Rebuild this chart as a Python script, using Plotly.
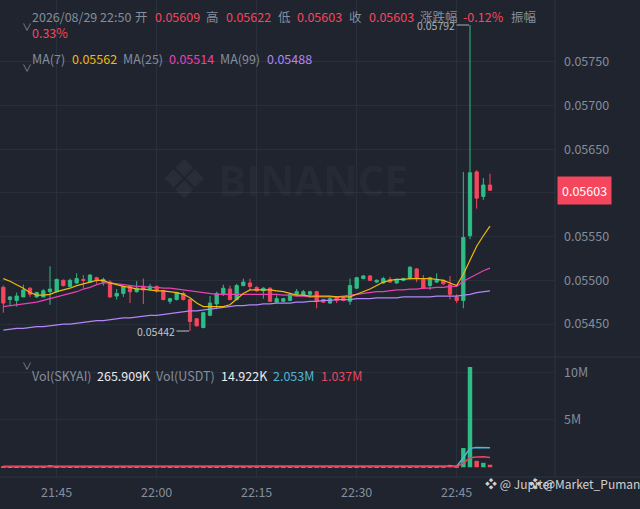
import pandas as pd
import plotly.graph_objects as go

# 1-minute candles, 21:37 -> 22:50
times = pd.date_range("2026-08-29 21:37", periods=74, freq="min")

opens = [0.05492, 0.05478, 0.05477, 0.05481, 0.05491, 0.05481, 0.05481, 0.05487, 0.05487, 0.05500,
         0.05493, 0.05497, 0.05501, 0.05498, 0.05503, 0.05498, 0.05498, 0.05482, 0.05485, 0.05493,
         0.05487, 0.05493, 0.05490, 0.05493, 0.05488, 0.05476, 0.05478, 0.05485, 0.05478, 0.05456,
         0.05446, 0.05460, 0.05473, 0.05484, 0.05490, 0.05478, 0.05494, 0.05497, 0.05492, 0.05488,
         0.05491, 0.05475, 0.05476, 0.05477, 0.05484, 0.05483, 0.05484, 0.05487, 0.05478, 0.05474,
         0.05481, 0.05480, 0.05476, 0.05491, 0.05502, 0.05505, 0.05498, 0.05497, 0.05501, 0.05497,
         0.05500, 0.05502, 0.05513, 0.05501, 0.05494, 0.05498, 0.05500, 0.05495, 0.05481, 0.05477,
         0.05551, 0.05624, 0.05596, 0.05609]
highs = [0.05494, 0.05482, 0.05486, 0.05495, 0.05492, 0.05487, 0.05490, 0.05516, 0.05502, 0.05501,
         0.05502, 0.05508, 0.05506, 0.05507, 0.05504, 0.05503, 0.05500, 0.05490, 0.05494, 0.05494,
         0.05499, 0.05502, 0.05496, 0.05494, 0.05489, 0.05480, 0.05487, 0.05487, 0.05479, 0.05457,
         0.05464, 0.05482, 0.05487, 0.05495, 0.05494, 0.05496, 0.05502, 0.05502, 0.05493, 0.05492,
         0.05492, 0.05483, 0.05480, 0.05485, 0.05490, 0.05489, 0.05488, 0.05488, 0.05479, 0.05481,
         0.05482, 0.05481, 0.05502, 0.05504, 0.05506, 0.05506, 0.05501, 0.05504, 0.05504, 0.05502,
         0.05503, 0.05516, 0.05514, 0.05506, 0.05504, 0.05508, 0.05501, 0.05505, 0.05484, 0.05624,
         0.05792, 0.05626, 0.05617, 0.05622]
lows = [0.05463, 0.05471, 0.05470, 0.05481, 0.05481, 0.05480, 0.05481, 0.05472, 0.05486, 0.05493,
        0.05492, 0.05496, 0.05491, 0.05497, 0.05496, 0.05494, 0.05480, 0.05478, 0.05481, 0.05474,
        0.05486, 0.05473, 0.05488, 0.05486, 0.05477, 0.05473, 0.05477, 0.05477, 0.05442, 0.05447,
        0.05445, 0.05459, 0.05467, 0.05482, 0.05477, 0.05477, 0.05493, 0.05488, 0.05487, 0.05479,
        0.05475, 0.05474, 0.05475, 0.05476, 0.05483, 0.05482, 0.05480, 0.05468, 0.05474, 0.05473,
        0.05474, 0.05476, 0.05472, 0.05490, 0.05501, 0.05499, 0.05497, 0.05496, 0.05497, 0.05496,
        0.05499, 0.05501, 0.05498, 0.05490, 0.05489, 0.05497, 0.05495, 0.05478, 0.05474, 0.05468,
        0.05547, 0.05582, 0.05592, 0.05603]
closes = [0.05474, 0.05481, 0.05482, 0.05489, 0.05484, 0.05486, 0.05488, 0.05490, 0.05501, 0.05494,
          0.05500, 0.05502, 0.05500, 0.05506, 0.05500, 0.05501, 0.05481, 0.05485, 0.05493, 0.05487,
          0.05491, 0.05489, 0.05493, 0.05488, 0.05478, 0.05479, 0.05486, 0.05478, 0.05453, 0.05448,
          0.05463, 0.05474, 0.05485, 0.05491, 0.05478, 0.05494, 0.05498, 0.05493, 0.05488, 0.05491,
          0.05476, 0.05479, 0.05479, 0.05484, 0.05487, 0.05487, 0.05487, 0.05476, 0.05475, 0.05479,
          0.05477, 0.05477, 0.05494, 0.05503, 0.05505, 0.05500, 0.05500, 0.05502, 0.05498, 0.05501,
          0.05502, 0.05515, 0.05502, 0.05491, 0.05503, 0.05500, 0.05496, 0.05484, 0.05477, 0.05549,
          0.05623, 0.05594, 0.05609, 0.05603]

ma7 = [0.05502, 0.05499, 0.05495, 0.05491, 0.05486, 0.05483, 0.05483, 0.05484, 0.05487, 0.05489,
       0.05491, 0.05494, 0.05496, 0.05498, 0.05500, 0.05500, 0.05497, 0.05495, 0.05493, 0.05492,
       0.05490, 0.05490, 0.05489, 0.05488, 0.05488, 0.05487, 0.05486, 0.05484, 0.05480, 0.05474,
       0.05470, 0.05470, 0.05470, 0.05470, 0.05472, 0.05479, 0.05485, 0.05489, 0.05489, 0.05489,
       0.05489, 0.05488, 0.05487, 0.05485, 0.05483, 0.05483, 0.05482, 0.05482, 0.05482, 0.05482,
       0.05481, 0.05481, 0.05481, 0.05484, 0.05487, 0.05490, 0.05494, 0.05498, 0.05500, 0.05501,
       0.05501, 0.05502, 0.05502, 0.05502, 0.05502, 0.05501, 0.05500, 0.05497, 0.05494, 0.05507,
       0.05524, 0.05539, 0.05551, 0.05562]
ma25 = [0.05470, 0.05471, 0.05472, 0.05473, 0.05474, 0.05475, 0.05477, 0.05479, 0.05481, 0.05483,
        0.05485, 0.05487, 0.05490, 0.05492, 0.05495, 0.05497, 0.05497, 0.05496, 0.05495, 0.05494,
        0.05493, 0.05493, 0.05492, 0.05492, 0.05491, 0.05491, 0.05490, 0.05489, 0.05488, 0.05487,
        0.05486, 0.05485, 0.05484, 0.05484, 0.05484, 0.05484, 0.05484, 0.05484, 0.05484, 0.05484,
        0.05484, 0.05484, 0.05483, 0.05483, 0.05482, 0.05482, 0.05481, 0.05481, 0.05481, 0.05481,
        0.05481, 0.05482, 0.05483, 0.05484, 0.05485, 0.05486, 0.05487, 0.05487, 0.05488, 0.05489,
        0.05489, 0.05490, 0.05490, 0.05491, 0.05491, 0.05492, 0.05492, 0.05493, 0.05493, 0.05499,
        0.05503, 0.05507, 0.05511, 0.05514]
ma99 = [0.05443, 0.05444, 0.05445, 0.05445, 0.05446, 0.05447, 0.05447, 0.05448, 0.05449, 0.05450,
        0.05450, 0.05451, 0.05452, 0.05453, 0.05454, 0.05454, 0.05455, 0.05456, 0.05457, 0.05457,
        0.05458, 0.05459, 0.05460, 0.05460, 0.05461, 0.05462, 0.05463, 0.05464, 0.05465, 0.05465,
        0.05466, 0.05467, 0.05468, 0.05469, 0.05470, 0.05471, 0.05471, 0.05472, 0.05472, 0.05473,
        0.05473, 0.05474, 0.05474, 0.05474, 0.05475, 0.05475, 0.05476, 0.05476, 0.05477, 0.05477,
        0.05478, 0.05478, 0.05478, 0.05479, 0.05479, 0.05479, 0.05480, 0.05480, 0.05480, 0.05480,
        0.05481, 0.05481, 0.05481, 0.05481, 0.05481, 0.05482, 0.05482, 0.05482, 0.05482, 0.05483,
        0.05484, 0.05486, 0.05487, 0.05488]

# volume in SKYAI (millions)
volumes = [0.12, 0.05, 0.06, 0.08, 0.06, 0.04, 0.05, 0.22, 0.09, 0.05,
           0.06, 0.07, 0.05, 0.06, 0.04, 0.04, 0.10, 0.05, 0.06, 0.07,
           0.05, 0.08, 0.04, 0.04, 0.06, 0.03, 0.05, 0.05, 0.14, 0.06,
           0.10, 0.09, 0.08, 0.06, 0.20, 0.09, 0.05, 0.05, 0.04, 0.05,
           0.07, 0.03, 0.03, 0.05, 0.04, 0.04, 0.04, 0.08, 0.03, 0.04,
           0.04, 0.03, 0.12, 0.09, 0.04, 0.05, 0.03, 0.04, 0.04, 0.04,
           0.03, 0.10, 0.08, 0.07, 0.08, 0.05, 0.05, 0.25, 0.15, 2.03,
           10.60, 0.68, 0.47, 0.266]
vol_ma_fast = [0.09, 0.09, 0.08, 0.08, 0.07, 0.06, 0.06, 0.09, 0.09, 0.09,
               0.09, 0.10, 0.07, 0.06, 0.06, 0.05, 0.06, 0.06, 0.06, 0.06,
               0.07, 0.06, 0.06, 0.06, 0.05, 0.05, 0.04, 0.05, 0.07, 0.07,
               0.08, 0.09, 0.09, 0.08, 0.11, 0.10, 0.10, 0.09, 0.09, 0.06,
               0.05, 0.05, 0.04, 0.05, 0.04, 0.04, 0.04, 0.05, 0.05, 0.05,
               0.05, 0.04, 0.05, 0.06, 0.06, 0.07, 0.07, 0.05, 0.04, 0.04,
               0.04, 0.05, 0.06, 0.06, 0.07, 0.08, 0.07, 0.10, 0.12, 1.00,
               2.00, 2.08, 2.10, 2.05]
vol_ma_slow = [0.08, 0.08, 0.08, 0.08, 0.07, 0.07, 0.07, 0.08, 0.08, 0.08,
               0.08, 0.08, 0.08, 0.08, 0.07, 0.07, 0.06, 0.06, 0.06, 0.06,
               0.06, 0.06, 0.06, 0.06, 0.06, 0.06, 0.06, 0.06, 0.06, 0.06,
               0.07, 0.07, 0.07, 0.07, 0.08, 0.08, 0.09, 0.09, 0.09, 0.09,
               0.08, 0.07, 0.07, 0.07, 0.06, 0.05, 0.05, 0.05, 0.05, 0.05,
               0.05, 0.05, 0.05, 0.05, 0.05, 0.05, 0.05, 0.05, 0.05, 0.05,
               0.05, 0.05, 0.05, 0.05, 0.06, 0.06, 0.06, 0.08, 0.09, 0.45,
               1.00, 1.08, 1.10, 1.04]

price_ticks = [0.0545, 0.0550, 0.0555, 0.0560, 0.0565, 0.0570, 0.0575]
vol_ticks = [5, 10]
vol_tick_text = ["5M", "10M"]

BG = "#1f242f"
GRID = "#2a303b"
LABEL = "#848e9c"
UP = "#2ebd85"
DOWN = "#f6465d"
FONT = "Noto Sans CJK SC"

vol_colors = [UP if c >= o else DOWN for o, c in zip(opens, closes)]

fig = go.Figure()

fig.add_trace(go.Candlestick(
    x=times, open=opens, high=highs, low=lows, close=closes,
    increasing=dict(line=dict(color=UP, width=1), fillcolor=UP),
    decreasing=dict(line=dict(color=DOWN, width=1), fillcolor=DOWN),
    xaxis="x", yaxis="y", showlegend=False
))
for vals, col in [(ma99, "#b385f8"), (ma25, "#eb40b5"), (ma7, "#f0b90b")]:
    fig.add_trace(go.Scatter(x=times, y=vals, mode="lines", line=dict(color=col, width=1.2),
                             xaxis="x", yaxis="y", showlegend=False, hoverinfo="skip"))

fig.add_trace(go.Bar(x=times, y=[v * 1e6 for v in volumes], marker=dict(color=vol_colors, line=dict(width=0)),
                     width=40000, xaxis="x", yaxis="y2", showlegend=False))
fig.add_trace(go.Scatter(x=times, y=[v * 1e6 for v in vol_ma_fast], mode="lines",
                         line=dict(color="#4db8d6", width=1.5), xaxis="x", yaxis="y2", showlegend=False))
fig.add_trace(go.Scatter(x=times, y=[v * 1e6 for v in vol_ma_slow], mode="lines",
                         line=dict(color="#e8455f", width=1.5), xaxis="x", yaxis="y2", showlegend=False))

split = 1 - 357 / 477

fig.update_layout(
    width=640, height=509,
    margin=dict(l=0, r=85, t=0, b=32),
    paper_bgcolor=BG, plot_bgcolor=BG,
    font=dict(family=FONT, size=12, color=LABEL),
    xaxis=dict(
        anchor="y2", type="date",
        range=["2026-08-29 21:36:30", "2026-08-29 22:59:45"],
        tick0="2026-08-29 21:45", dtick=900000, tickformat="%H:%M",
        showgrid=True, gridcolor=GRID, gridwidth=1, zeroline=False,
        rangeslider=dict(visible=False), ticklabelstandoff=6,
        tickfont=dict(size=12.5, color=LABEL), showline=False,
    ),
    yaxis=dict(
        domain=[split, 1], side="right", range=[0.054123, 0.058206],
        tickvals=price_ticks, tickformat=".5f", showgrid=True, gridcolor=GRID,
        zeroline=False, ticklabelstandoff=8, tickfont=dict(size=12.5, color=LABEL),
    ),
    yaxis2=dict(
        domain=[0, split], side="right", range=[-1.03e6, 11.66e6],
        tickvals=[v * 1e6 for v in vol_ticks], ticktext=vol_tick_text,
        showgrid=True, gridcolor=GRID, zeroline=False, ticklabelstandoff=8,
        tickfont=dict(size=12.5, color=LABEL),
    ),
    showlegend=False,
    hovermode=False,
)

# pane borders
fig.add_shape(type="line", xref="paper", yref="paper", x0=0, x1=1.2, y0=split, y1=split,
              line=dict(color="#2f3540", width=1))
fig.add_shape(type="line", xref="paper", yref="paper", x0=0, x1=1.2, y0=0, y1=0,
              line=dict(color="#2f3540", width=1))
fig.add_shape(type="line", xref="paper", yref="paper", x0=1, x1=1, y0=0, y1=1,
              line=dict(color="#2f3540", width=1))

# watermark
fig.add_annotation(xref="paper", yref="paper", x=313 / 555, y=1 - 179 / 477, text="<b>BINANCE</b>",
                   showarrow=False, font=dict(family="Open Sans", size=42, color="rgba(255,255,255,0.045)"))
fig.add_annotation(xref="paper", yref="paper", x=158 / 555, y=1 - 179 / 477, text="❖",
                   showarrow=False, font=dict(family="DejaVu Sans", size=54, color="rgba(255,255,255,0.045)"))

# header rows: (text, colour, left edge in px), row centre in px from top
headers = [
    (17, [("2026/08/29 22:50", LABEL, 31), ("开", LABEL, 134), ("0.05609", DOWN, 154),
          ("高", LABEL, 205), ("0.05622", DOWN, 225), ("低", LABEL, 277), ("0.05603", DOWN, 296),
          ("收", LABEL, 348), ("0.05603", DOWN, 368), ("涨跌幅", LABEL, 419), ("-0.12%", DOWN, 462),
          ("振幅", LABEL, 510)]),
    (33, [("0.33%", DOWN, 31)]),
    (58, [("MA(7)", LABEL, 31), ("0.05562", "#f0b90b", 71), ("MA(25)", LABEL, 122),
          ("0.05514", "#eb40b5", 168), ("MA(99)", LABEL, 219), ("0.05488", "#b385f8", 266)]),
    (375, [("Vol(SKYAI)", LABEL, 31), ("265.909K", "#eaecef", 96), ("Vol(USDT)", LABEL, 155),
           ("14.922K", "#eaecef", 220), ("2.053M", "#4db8d6", 272), ("1.037M", "#e8455f", 320)]),
]
for ypx, items in headers:
    for txt, col, xpx in items:
        fig.add_annotation(xref="paper", yref="paper", x=xpx / 555, y=1 - ypx / 477, xanchor="left",
                           yanchor="middle", text=txt, showarrow=False, borderpad=0,
                           font=dict(size=12.5, color=col))
for ypx in [17, 58, 375]:
    fig.add_annotation(xref="paper", yref="paper", x=20 / 555, y=1 - ypx / 477, text="∨",
                       showarrow=False, font=dict(size=10, color=LABEL))

# high / low markers
fig.add_annotation(x=times[70], y=0.05792, text="0.05792", showarrow=True, arrowhead=0, arrowwidth=1,
                   arrowcolor="#aab0b8", ax=-34, ay=0, standoff=1, font=dict(size=10.5, color="#aab0b8"))
fig.add_annotation(x=times[28], y=0.05442, text="0.05442", showarrow=True, arrowhead=0, arrowwidth=1,
                   arrowcolor="#c0c4cc", ax=-34, ay=0, standoff=1, font=dict(size=10.5, color="#c0c4cc"))

# last price tag
fig.add_annotation(xref="paper", yref="y", x=557 / 555, y=closes[-1], xanchor="left", text="0.05603",
                   showarrow=False, bgcolor=DOWN, borderpad=4, font=dict(size=12.5, color="white"))

# bottom-right credit
fig.add_annotation(xref="paper", yref="paper", x=483 / 555, y=-17 / 477, xanchor="left", text="❖ @ Jupiter",
                   showarrow=False, font=dict(size=12, color="#d0d0d0"))
fig.add_annotation(xref="paper", yref="paper", x=527 / 555, y=-17 / 477, xanchor="left", text="❖ @Market_Puman",
                   showarrow=False, font=dict(size=12, color="#d0d0d0"))

# the page body has a default 8px margin; drop it so the figure sits at the window's corner
fig.write_html("out.html", config={"displayModeBar": False},
               post_script="document.body.style.margin='0';")
